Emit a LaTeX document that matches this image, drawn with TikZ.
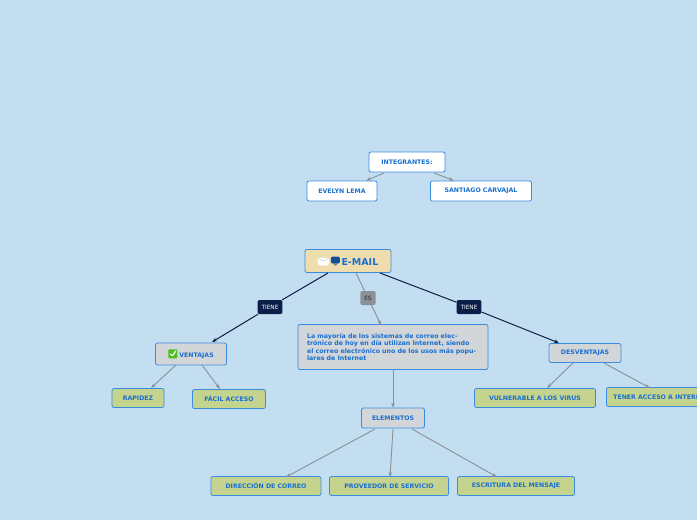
\documentclass[tikz,border=0pt]{standalone}
\usepackage{fontspec}
\setmainfont{DejaVu Sans}
\usetikzlibrary{arrows.meta}
\definecolor{bg}{HTML}{C3DEF1}
\definecolor{txt}{HTML}{1A6FD0}
\definecolor{bord}{HTML}{3A8BE0}
\definecolor{tan}{HTML}{EFDDAE}
\definecolor{gbox}{HTML}{D3D6D9}
\definecolor{grnbox}{HTML}{C4D48E}
\definecolor{navy}{HTML}{0B1E47}
\definecolor{lgray}{HTML}{8A9096}
\definecolor{chk}{HTML}{4CBF1E}
\tikzset{
 base/.style={draw=bord,rounded corners=2pt,line width=0.8pt,font=\bfseries\fontsize{6.2}{7}\selectfont,text=txt,minimum height=19pt,inner xsep=4pt},
 wbox/.style={base,fill=white},
 gb/.style={base,fill=gbox},
 grn/.style={base,fill=grnbox},
 lab/.style={rounded corners=2pt,font=\fontsize{5.8}{6}\selectfont,text=white,minimum height=14pt,inner xsep=4pt},
 ga/.style={draw=lgray,line width=0.9pt,-{Stealth[length=5pt]}},
 na/.style={draw=navy,line width=1pt,-{Stealth[length=5pt]}},
}
\begin{document}
\begin{tikzpicture}[x=1pt,y=-1pt]
\fill[bg] (0,0) rectangle (697,520);
\useasboundingbox (0,0) rectangle (697,520);
\clip (0,0) rectangle (697,520);
\node[wbox,minimum width=76pt,minimum height=20pt] (int) at (407,162) {INTEGRANTES:};
\node[wbox,minimum width=70pt,minimum height=20pt] (ev) at (342,191) {EVELYN LEMA};
\node[wbox,minimum width=101pt,minimum height=20pt] (sa) at (481,191) {SANTIAGO CARVAJAL};
\node[base,fill=tan,minimum width=86pt,minimum height=23pt,font=\bfseries\fontsize{9.5}{10}\selectfont] (em) at (348,261) {\tikz[baseline=0pt,x=1pt,y=1pt]{\fill[white] (0,0) rectangle (11,8); \draw[gray!40,line width=0.5pt] (0,8) -- (5.5,3.5) -- (11,8); \fill[txt!70!black] (13,2) rectangle (22,9); \fill[gray] (16,0) rectangle (19,2);}\,E-MAIL};
\node[gb,minimum width=190pt,minimum height=45pt,text width=172pt,align=left,font=\bfseries\fontsize{6.3}{7.6}\selectfont] (de) at (393,347) {La mayoría de los sistemas de correo electrónico de hoy en día utilizan Internet, siendo el correo electrónico uno de los usos más populares de Internet};
\node[gb,minimum width=71pt,minimum height=22pt] (ve) at (191,354) {\tikz[baseline=1pt]{\fill[chk,rounded corners=1pt] (0,0) rectangle (9pt,9pt); \draw[white,line width=1.2pt] (2pt,4.5pt) -- (4pt,2pt) -- (7.5pt,7.5pt);} VENTAJAS};
\node[gb,minimum width=72pt] (dv) at (585,353) {DESVENTAJAS};
\node[grn,minimum width=52pt] (ra) at (138,398) {RAPIDEZ};
\node[grn,minimum width=73pt] (fa) at (229,399) {FÁCIL ACCESO};
\node[grn,minimum width=121pt] (vu) at (535,398) {VULNERABLE A LOS VIRUS};
\node[grn,anchor=west,minimum width=110pt,align=left] (te) at (606,397) {TENER ACCESO A INTERNET};
\node[gb,minimum width=63pt,minimum height=20pt] (el) at (393,418) {ELEMENTOS};
\node[grn,minimum width=110pt] (di) at (266,486) {DIRECCIÓN DE CORREO};
\node[grn,minimum width=119pt] (pr) at (389,486) {PROVEEDOR DE SERVICIO};
\node[grn,minimum width=117pt] (es) at (516,486) {ESCRITURA DEL MENSAJE};
\node[lab,fill=navy] (t1) at (270,307) {TIENE};
\node[lab,fill=lgray,text=gray!30!black] (t2) at (368,298) {ES};
\node[lab,fill=navy] (t3) at (469,307) {TIENE};
\draw[ga] (384,173) -- (ev);
\draw[ga] (434,173) -- (sa);
\draw[navy,line width=1pt] (328,273) -- (t1);
\draw[na] (t1) -- (212,342);
\draw[lgray,line width=0.9pt] (356,273) -- (t2);
\draw[ga] (t2) -- (381,325);
\draw[navy,line width=1pt] (380,273) -- (t3);
\draw[na] (t3) -- (559,343);
\draw[ga] (176,365) -- (151,388);
\draw[ga] (202,365) -- (220,389);
\draw[ga] (573,363) -- (547,388);
\draw[ga] (604,363) -- (650,388);
\draw[ga] (de) -- (el);
\draw[ga] (375,429) -- (286,477);
\draw[ga] (393,429) -- (390,477);
\draw[ga] (412,429) -- (497,477);
\end{tikzpicture}
\end{document}
